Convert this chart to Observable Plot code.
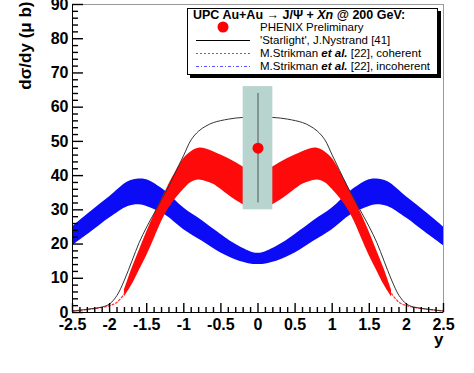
<!DOCTYPE html>
<html>
<head>
<meta charset="utf-8">
<script src="https://cdn.jsdelivr.net/npm/d3@7"></script>
<script src="https://cdn.jsdelivr.net/npm/@observablehq/plot@0.6"></script>
<style>
  body { margin: 0; background: #fff; }
  #wrap { position: relative; width: 474px; height: 373px; font-family: "Liberation Sans", Arial, sans-serif; }
  #legend { position: absolute; left: 187px; top: 8px; width: 249px; height: 65px; background: #fff;
            border: 1px solid #000; box-shadow: 3px 3px 0 #000; color: #000; }
  #legend .title { position: absolute; left: 5px; top: 0px; font-size: 12.5px; line-height: 13px; font-weight: bold; white-space: nowrap; }
  #legend .row { position: absolute; left: 72px; font-size: 11.5px; line-height: 13px; white-space: nowrap; }
  #legend svg { position: absolute; left: 0; top: 0; }
</style>
</head>
<body>
<div id="wrap"><div id="chart"></div>
  <div id="legend">
    <div class="title">UPC Au+Au &#8594; J/&#936; + <i>Xn</i> @ 200 GeV:</div>
    <svg width="70" height="65">
      <circle cx="35" cy="18" r="5.5" fill="#f00"></circle>
      <line x1="8" x2="62" y1="31.5" y2="31.5" stroke="#000" stroke-width="1"></line>
      <line x1="8" x2="62" y1="44.5" y2="44.5" stroke="#f33" stroke-width="1" stroke-dasharray="2,2"></line>
      <line x1="8" x2="62" y1="57.5" y2="57.5" stroke="#55f" stroke-width="1" stroke-dasharray="3,2,1,2"></line>
    </svg>
    <div class="row" style="top:12px">PHENIX Preliminary</div>
    <div class="row" style="top:25px">'Starlight', J.Nystrand [41]</div>
    <div class="row" style="top:38px">M.Strikman <b><i>et al.</i></b> [22], coherent</div>
    <div class="row" style="top:51px">M.Strikman <b><i>et al.</i></b> [22], incoherent</div>
  </div>
</div>
<script>
// ---- data ----
const incohX   = [-2.5, -2.25, -2, -1.75, -1.6, -1.5, -1.25, -1, -0.75, -0.5, -0.25, 0, 0.25, 0.5, 0.75, 1, 1.25, 1.5, 1.6, 1.75, 2, 2.25, 2.5];
const incohHi  = [25, 29.5, 33.8, 38.2, 39, 38.8, 35.5, 30.5, 26.8, 22.8, 19.3, 17.3, 19.3, 22.8, 26.8, 30.5, 35.5, 38.8, 39, 38.2, 33.8, 29.5, 25];
const incohLo  = [19.5, 23.5, 27.6, 31, 31.5, 31, 28.5, 24.2, 20.8, 17.4, 15, 14, 15, 17.4, 20.8, 24.2, 28.5, 31, 31.5, 31, 27.6, 23.5, 19.5];

const cohX  = [-1.8, -1.7, -1.6, -1.5, -1.4, -1.3, -1.2, -1.1, -1, -0.9, -0.8, -0.7, -0.6, -0.5, -0.4, -0.3, -0.2, -0.1, 0, 0.1, 0.2, 0.3, 0.4, 0.5, 0.6, 0.7, 0.8, 0.9, 1, 1.1, 1.2, 1.3, 1.4, 1.5, 1.6, 1.7, 1.8];
const cohHi = [6.5, 12.7, 18.1, 23.5, 28.5, 33, 37.5, 41.5, 45, 47, 48, 47.8, 47, 46, 45, 43.8, 42.5, 41.5, 41, 41.5, 42.5, 43.8, 45, 46, 47, 47.8, 48, 47, 45, 41.5, 37.5, 33, 28.5, 23.5, 18.1, 12.7, 6.5];
const cohLo = [4.5, 8, 12.3, 16.6, 21.5, 26.5, 30.5, 33.5, 36, 38, 38.7, 38.3, 37.5, 36, 34.3, 32.8, 31.5, 30.7, 30.3, 30.7, 31.5, 32.8, 34.3, 36, 37.5, 38.3, 38.7, 38, 36, 33.5, 30.5, 26.5, 21.5, 16.6, 12.3, 8, 4.5];

const cohTailLeftX  = [-2.5, -2.25, -2, -1.9, -1.8];
const cohTailLeftY  = [0.5, 1.0, 2.0, 3.0, 5.5];
const cohTailRightX = [1.8, 1.9, 2, 2.25, 2.5];
const cohTailRightY = [5.5, 3.0, 2.0, 1.0, 0.5];

const starX = [-2.5, -2.25, -2.1, -2, -1.9, -1.8, -1.7, -1.6, -1.5, -1.4, -1.3, -1.2, -1.1, -1, -0.9, -0.8, -0.7, -0.6, -0.4, -0.2, 0, 0.2, 0.4, 0.6, 0.7, 0.8, 0.9, 1, 1.1, 1.2, 1.3, 1.4, 1.5, 1.6, 1.7, 1.8, 1.9, 2, 2.1, 2.25, 2.5];
const starY = [0.4, 1.1, 1.6, 2.5, 5, 9.5, 15, 20.5, 25, 29, 33, 37, 41.5, 46, 50.5, 53, 54.5, 55.5, 56.5, 57, 57, 57, 56.5, 55.5, 54.5, 53, 50.5, 46, 41.5, 37, 33, 29, 25, 20.5, 15, 9.5, 5, 2.5, 1.6, 1.1, 0.4];

const phenixX = [0];
const phenixY = [48];
const phenixStatLo = [32];
const phenixStatHi = [64];
const phenixSysLo = [30];
const phenixSysHi = [66];
const phenixSysHalfWidth = [0.2];

const xDomain = [-2.5, 2.5];
const yDomain = [0, 90];
const xTickLabels = [-2.5, -2, -1.5, -1, -0.5, 0, 0.5, 1, 1.5, 2, 2.5];
const xMinorTicks = [-2.4, -2.3, -2.2, -2.1, -1.9, -1.8, -1.7, -1.6, -1.4, -1.3, -1.2, -1.1, -0.9, -0.8, -0.7, -0.6, -0.4, -0.3, -0.2, -0.1,
                     0.1, 0.2, 0.3, 0.4, 0.6, 0.7, 0.8, 0.9, 1.1, 1.2, 1.3, 1.4, 1.6, 1.7, 1.8, 1.9, 2.1, 2.2, 2.3, 2.4];
const yTickLabels = [0, 10, 20, 30, 40, 50, 60, 70, 80, 90];
const yMinorTicks = [2, 4, 6, 8, 12, 14, 16, 18, 22, 24, 26, 28, 32, 34, 36, 38, 42, 44, 46, 48, 52, 54, 56, 58, 62, 64, 66, 68, 72, 74, 76, 78, 82, 84, 86, 88];

// ---- layout ----
const W = 474, H = 373, mL = 72, mR = 31, mT = 4, mB = 61;
const frameW = W - mL - mR, frameH = H - mT - mB;
// tick lengths in pixels (ROOT style, pointing into the frame)
const xMajorLen = 9, xMinorLen = 5, yMajorLen = 11, yMinorLen = 6;
const pxY = (yDomain[1] - yDomain[0]) / frameH;
const pxX = (xDomain[1] - xDomain[0]) / frameW;

// ---- tables ----
const incoh = incohX.map((x, i) => ({x, lo: incohLo[i], hi: incohHi[i]}));
const coh = cohX.map((x, i) => ({x, lo: cohLo[i], hi: cohHi[i]}));
const tailL = cohTailLeftX.map((x, i) => ({x, y: cohTailLeftY[i]}));
const tailR = cohTailRightX.map((x, i) => ({x, y: cohTailRightY[i]}));
const star = starX.map((x, i) => ({x, y: starY[i]}));
const phenix = phenixX.map((x, i) => ({x, y: phenixY[i], slo: phenixStatLo[i], shi: phenixStatHi[i],
  ylo: phenixSysLo[i], yhi: phenixSysHi[i], x1: x - phenixSysHalfWidth[i], x2: x + phenixSysHalfWidth[i]}));
const xTickRows = xTickLabels.map(x => ({x, y1: yDomain[0], y2: yDomain[0] + xMajorLen * pxY}))
  .concat(xMinorTicks.map(x => ({x, y1: yDomain[0], y2: yDomain[0] + xMinorLen * pxY})));
const yTickRows = yTickLabels.map(y => ({y, x1: xDomain[0], x2: xDomain[0] + yMajorLen * pxX}))
  .concat(yMinorTicks.map(y => ({y, x1: xDomain[0], x2: xDomain[0] + yMinorLen * pxX})));

const chart = Plot.plot({
  width: W, height: H,
  marginLeft: mL, marginRight: mR, marginTop: mT, marginBottom: mB,
  style: {fontFamily: "'Liberation Sans', Arial, sans-serif", fontSize: "16px", fontWeight: "bold", color: "#000", background: "#fff"},
  x: {domain: xDomain, axis: null},
  y: {domain: yDomain, axis: null},
  marks: [
    Plot.frame({stroke: "#999"}),
    Plot.areaY(incoh, {x: "x", y1: "lo", y2: "hi", fill: "#0b0bf5", curve: "catmull-rom"}),
    Plot.areaY(coh, {x: "x", y1: "lo", y2: "hi", fill: "#ff0a0a", curve: "catmull-rom"}),
    Plot.line(tailL, {x: "x", y: "y", stroke: "#f33", strokeWidth: 1.2, strokeDasharray: "2,2", curve: "catmull-rom"}),
    Plot.line(tailR, {x: "x", y: "y", stroke: "#f33", strokeWidth: 1.2, strokeDasharray: "2,2", curve: "catmull-rom"}),
    Plot.line(star, {x: "x", y: "y", stroke: "#333", strokeWidth: 1, curve: "catmull-rom"}),
    Plot.rect(phenix, {x1: "x1", x2: "x2", y1: "ylo", y2: "yhi", fill: "#b7d4ce"}),
    Plot.ruleX(phenix, {x: "x", y1: "slo", y2: "shi", stroke: "#555", strokeWidth: 1}),
    Plot.dot(phenix, {x: "x", y: "y", r: 5.5, fill: "#f00"}),
    // inward ticks (ROOT style)
    Plot.ruleX(xTickRows, {x: "x", y1: "y1", y2: "y2", stroke: "#000", strokeWidth: 1.4}),
    Plot.ruleY(yTickRows, {y: "y", x1: "x1", x2: "x2", stroke: "#000", strokeWidth: 1.4}),
    Plot.ruleY([yDomain[0]], {stroke: "#000"}),
    Plot.ruleX([xDomain[0]], {stroke: "#000"}),
    Plot.axisX(xTickLabels, {tickSize: 0, tickPadding: 6, tickFormat: d => String(d), label: null}),
    Plot.axisY(yTickLabels, {tickSize: 0, tickPadding: 4, tickFormat: d => String(d), label: null}),
    Plot.text(["dσ/dy (μ b)"], {frameAnchor: "top-left", rotate: -90, textAnchor: "end", lineAnchor: "bottom", dx: -42, dy: -3, fontSize: 17, fontWeight: "bold"}),
    Plot.text(["y"], {frameAnchor: "bottom-right", textAnchor: "end", lineAnchor: "top", dx: 0, dy: 20, fontSize: 17, fontWeight: "bold"})
  ]
});
document.getElementById("chart").appendChild(chart);
</script>
</body>
</html>
